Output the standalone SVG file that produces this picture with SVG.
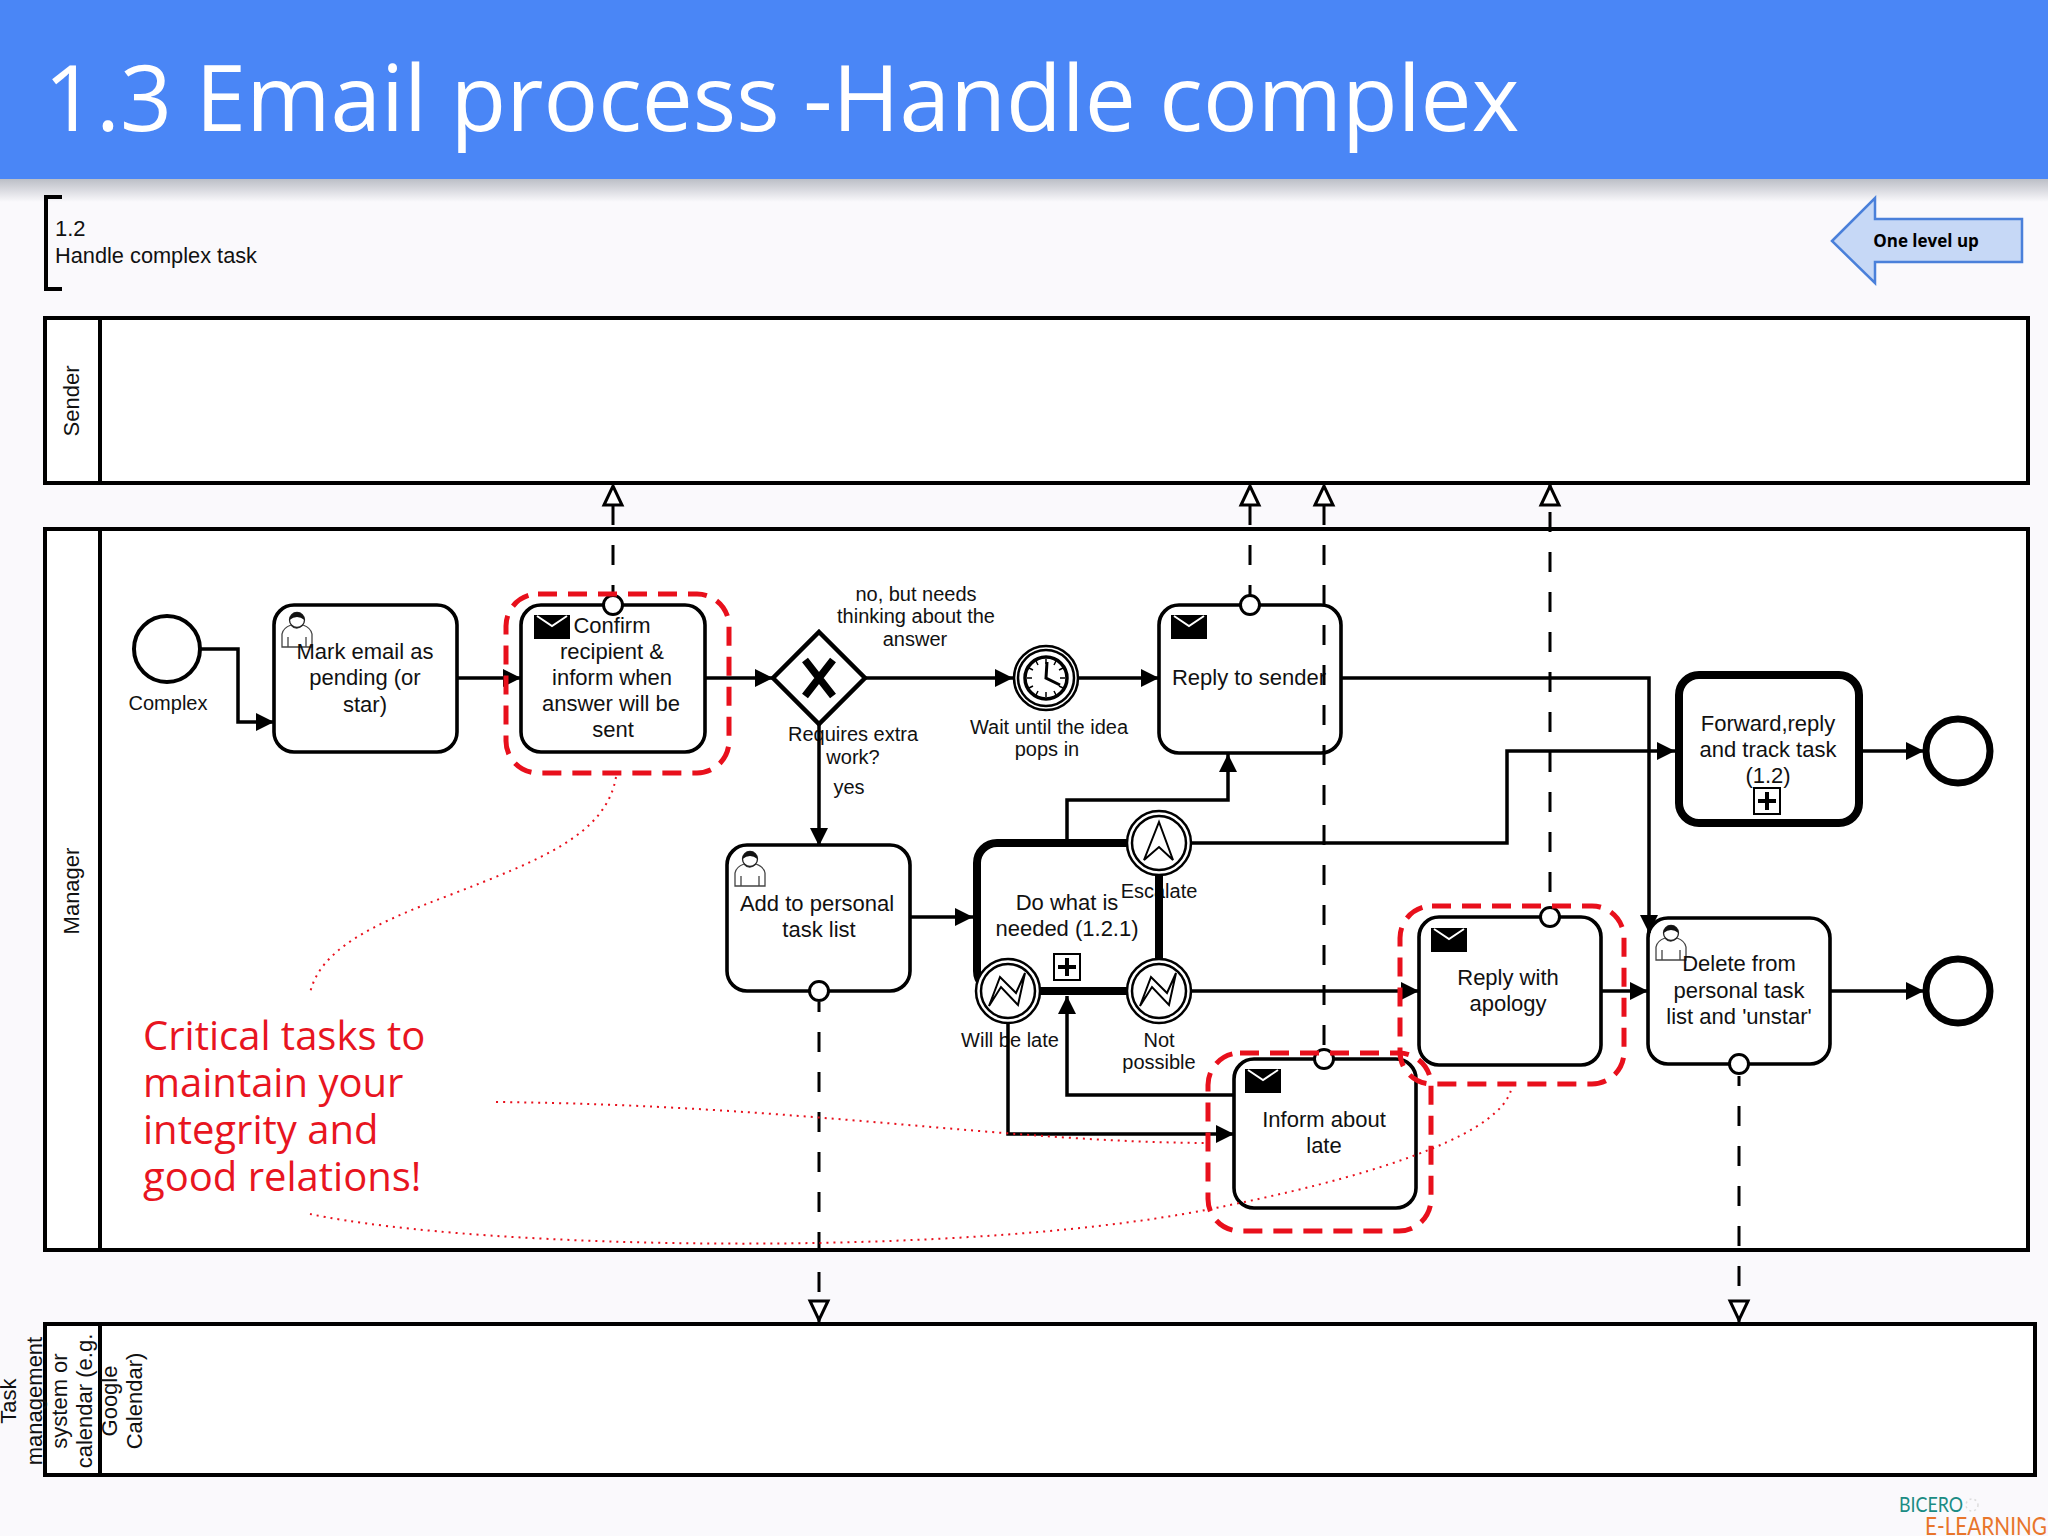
<svg xmlns="http://www.w3.org/2000/svg" width="2048" height="1536" viewBox="0 0 2048 1536">
<style>
.l{font-family:"Liberation Sans",Arial,sans-serif;font-size:22px;fill:#111;text-anchor:middle}
.s{font-size:20px}
.start{text-anchor:start}
.pool{fill:#fff;stroke:#000;stroke-width:4}
.div{stroke:#000;stroke-width:4}
.task{fill:#fff;stroke:#000;stroke-width:3.6}
.thick{fill:none;stroke:#000;stroke-width:8}
.mc{fill:#fff;stroke:#000;stroke-width:3}
.flow{fill:none;stroke:#000;stroke-width:3.5;marker-end:url(#fa)}
.msg{fill:none;stroke:#000;stroke-width:3;stroke-dasharray:20 20}
.crit{fill:none;stroke:#e8101c;stroke-width:5;stroke-dasharray:19 11}
.dot{fill:none;stroke:#e8101c;stroke-width:2;stroke-dasharray:2 5}
.ev{fill:#fff;stroke:#000;stroke-width:2.5}
.gl{fill:none;stroke:#000;stroke-width:2}
</style>
<defs>
<linearGradient id="sh" x1="0" y1="0" x2="0" y2="1"><stop offset="0" stop-color="#b9bcc4"/><stop offset="1" stop-color="#faf9fc"/></linearGradient>
<marker id="fa" markerUnits="userSpaceOnUse" markerWidth="20" markerHeight="20" viewBox="0 0 20 20" refX="19" refY="10" orient="auto-start-reverse"><polygon points="1,1 19,10 1,19" fill="#000"/></marker>
<marker id="ha" markerUnits="userSpaceOnUse" markerWidth="30" markerHeight="26" viewBox="0 0 30 26" refX="25" refY="13" orient="auto-start-reverse"><polygon points="4,4 23,13 4,22" fill="#fff" stroke="#000" stroke-width="3"/></marker>
<g id="mail"><rect width="36" height="24" fill="#000"/><path d="M3 1 L18 11 L33 1" fill="none" stroke="#fff" stroke-width="2"/></g>
<g id="user"><path d="M1 36 V23 Q2 17 10 14 Q15 20 22 14 Q30 17 31 23 V36 Z M7 36 V26 M25 36 V26" fill="#fff" stroke="#444" stroke-width="1.3"/><circle cx="16" cy="9" r="7.5" fill="#fff" stroke="#222" stroke-width="1.3"/><path d="M8.5 9 A7.5 7.5 0 0 1 23.5 9 Q16 3 8.5 9Z" fill="#111"/></g>
<g id="plus"><rect x="-13" y="-13" width="26" height="26" fill="#fff" stroke="#000" stroke-width="2"/><path d="M-9 0 H9 M0 -9 V9" stroke="#000" stroke-width="4"/></g>
<path id="bolt" d="M-19 15 L-8 -14 L8 2 L17 -18 L10 14 L-7 -4 Z" fill="#fff" stroke="#000" stroke-width="2"/>
</defs>
<rect width="2048" height="1536" fill="#faf9fc"/>
<g id="header">
<rect y="178" width="2048" height="24" fill="url(#sh)"/>
<rect width="2048" height="179" fill="#4a86f6"/>
<text x="44" y="131" font-family="'Open Sans','Noto Sans',sans-serif" font-size="91" fill="#fff">1.3 Email process -Handle complex</text>
</g>
<g id="context">
<path d="M62 197 H46 V289 H62" fill="none" stroke="#000" stroke-width="4"/>
<text class="l start" x="55" y="236">1.2</text>
<text class="l start" x="55" y="263" textLength="202" lengthAdjust="spacingAndGlyphs">Handle complex task</text>
</g>
<g id="one-level-up">
<path d="M1832 241 L1875 198 V219 H2022 V262 H1875 V283 Z" fill="#c6d8f6" stroke="#4a80da" stroke-width="2.5"/>
<text x="1926" y="247" font-family="'Open Sans',sans-serif" font-weight="700" font-size="17" fill="#000" text-anchor="middle">One level up</text>
</g>
<g id="pool-sender">
<rect class="pool" x="45" y="318" width="1983" height="165"/>
<path class="div" d="M100 318 V483"/>
<text class="l" transform="translate(79,401) rotate(-90)">Sender</text>
</g>
<g id="pool-manager">
<rect class="pool" x="45" y="529" width="1983" height="721"/>
<path class="div" d="M100 529 V1250"/>
<text class="l" transform="translate(79,891) rotate(-90)">Manager</text>
</g>
<g id="pool-task">
<rect class="pool" x="45" y="1324" width="1990" height="151"/>
<path class="div" d="M100 1324 V1475"/>
<g class="l">
<text class="l" transform="translate(16,1401) rotate(-90)">Task</text>
<text class="l" transform="translate(42,1401) rotate(-90)">management</text>
<text class="l" transform="translate(67,1401) rotate(-90)">system or</text>
<text class="l" transform="translate(92,1401) rotate(-90)">calendar (e.g.</text>
<text class="l" transform="translate(117,1401) rotate(-90)">Google</text>
<text class="l" transform="translate(142,1401) rotate(-90)">Calendar)</text>
</g>
</g>
<g id="start-complex">
<circle cx="167" cy="649" r="33" fill="#fff" stroke="#000" stroke-width="4"/>
<text class="l s" x="168" y="710">Complex</text>
</g>
<g id="task-mark">
<rect class="task" x="274" y="605" width="183" height="147" rx="20"/>
<use href="#user" x="281" y="611"/>
<text class="l" x="365" y="659">Mark email as</text>
<text class="l" x="365" y="685">pending (or</text>
<text class="l" x="365" y="712">star)</text>
</g>
<g id="task-confirm">
<rect class="task" x="521" y="605" width="184" height="147" rx="20"/>
<use href="#mail" x="534" y="615"/>
<circle class="mc" cx="613" cy="605" r="9.5"/>
<text class="l" x="612" y="633">Confirm</text>
<text class="l" x="612" y="659">recipient &amp;</text>
<text class="l" x="612" y="685">inform when</text>
<text class="l" x="611" y="711">answer will be</text>
<text class="l" x="613" y="737">sent</text>
</g>
<g id="gateway">
<path d="M819 632 L865 678 L819 724 L773 678 Z" fill="#fff" stroke="#000" stroke-width="4.5"/>
<path d="M805 660 L833 696 M833 660 L805 696" stroke="#000" stroke-width="7.5" fill="none"/>
<text class="l s" x="853" y="741">Requires extra</text>
<text class="l s" x="853" y="764">work?</text>
<text class="l s" x="849" y="794">yes</text>
<text class="l s" x="916" y="601">no, but needs</text>
<text class="l s" x="916" y="623">thinking about the</text>
<text class="l s" x="915" y="646">answer</text>
</g>
<g id="timer-wait">
<circle cx="1046" cy="678" r="32" fill="#fff" stroke="#000" stroke-width="2.5"/>
<circle cx="1046" cy="678" r="28" fill="#fff" stroke="#000" stroke-width="2.5"/>
<circle cx="1046" cy="678" r="21" fill="#fff" stroke="#000" stroke-width="3.5"/>
<path d="M1046 659 V664 M1046 692 V697 M1027 678 H1032 M1060 678 H1065 M1036 661 L1038 665 M1056 661 L1054 665 M1036 695 L1038 691 M1056 695 L1054 691 M1029 668 L1033 670 M1063 668 L1059 670 M1029 688 L1033 686 M1063 688 L1059 686" stroke="#000" stroke-width="1.5"/>
<path d="M1047 662 L1046 678 L1060 685" fill="none" stroke="#000" stroke-width="3"/>
<text class="l s" x="1049" y="734">Wait until the idea</text>
<text class="l s" x="1047" y="756">pops in</text>
</g>
<g id="task-reply-sender">
<rect class="task" x="1159" y="605" width="182" height="148" rx="20"/>
<use href="#mail" x="1171" y="615"/>
<circle class="mc" cx="1250" cy="605" r="9.5"/>
<text class="l" x="1249" y="685">Reply to sender</text>
</g>
<g id="task-add">
<rect class="task" x="727" y="845" width="183" height="146" rx="20"/>
<use href="#user" x="734" y="850"/>
<circle class="mc" cx="819" cy="991" r="9.5"/>
<text class="l" x="817" y="911">Add to personal</text>
<text class="l" x="819" y="937">task list</text>
</g>
<g id="subprocess-do">
<rect x="977" y="843" width="182" height="148" rx="20" fill="#fff"/>
<text class="l s" x="1159" y="898">Escalate</text>
<rect class="thick" x="977" y="843" width="182" height="148" rx="20"/>
<use href="#plus" x="1067" y="967"/>
<text class="l" x="1067" y="910">Do what is</text>
<text class="l" x="1067" y="936">needed (1.2.1)</text>
</g>
<g id="event-escalate">
<circle class="ev" cx="1159" cy="843" r="32"/><circle class="ev" cx="1159" cy="843" r="27"/>
<path class="gl" d="M1159 822 L1173 860 L1159 847 L1144 860 Z"/>
</g>
<g id="event-late">
<circle class="ev" cx="1008" cy="991" r="32"/><circle class="ev" cx="1008" cy="991" r="27"/>
<use href="#bolt" x="1008" y="991"/>
<text class="l s" x="1010" y="1047">Will be late</text>
</g>
<g id="event-notpossible">
<circle class="ev" cx="1159" cy="991" r="32"/><circle class="ev" cx="1159" cy="991" r="27"/>
<use href="#bolt" x="1159" y="991"/>
<text class="l s" x="1159" y="1047">Not</text>
<text class="l s" x="1159" y="1069">possible</text>
</g>
<g id="task-forward">
<rect class="thick" x="1679" y="675" width="180" height="148" rx="20" style="fill:#fff"/>
<text class="l" x="1768" y="731">Forward,reply</text>
<text class="l" x="1768" y="757">and track task</text>
<text class="l" x="1768" y="783">(1.2)</text>
<use href="#plus" x="1767" y="801"/>
</g>
<g id="end-1"><circle cx="1958" cy="751" r="32" fill="#fff" stroke="#000" stroke-width="7"/></g>
<g id="task-apology">
<rect class="task" x="1419" y="917" width="182" height="148" rx="20"/>
<use href="#mail" x="1431" y="928"/>
<circle class="mc" cx="1550" cy="917" r="9.5"/>
<text class="l" x="1508" y="985">Reply with</text>
<text class="l" x="1508" y="1011">apology</text>
</g>
<g id="task-delete">
<rect class="task" x="1648" y="918" width="182" height="146" rx="20"/>
<use href="#user" x="1655" y="924"/>
<circle class="mc" cx="1739" cy="1064" r="9.5"/>
<text class="l" x="1739" y="971">Delete from</text>
<text class="l" x="1739" y="998">personal task</text>
<text class="l" x="1739" y="1024">list and 'unstar'</text>
</g>
<g id="end-2"><circle cx="1958" cy="991" r="32" fill="#fff" stroke="#000" stroke-width="7"/></g>
<g id="task-inform">
<rect class="task" x="1234" y="1059" width="182" height="149" rx="20"/>
<use href="#mail" x="1245" y="1069"/>
<circle class="mc" cx="1324" cy="1059" r="9.5"/>
<text class="l" x="1324" y="1127">Inform about</text>
<text class="l" x="1324" y="1153">late</text>
</g>
<g id="connectors">
<path class="flow" d="M200 649 H238 V722 H274"/>
<path class="flow" d="M457 678 H521"/>
<path class="flow" d="M705 678 H773"/>
<path class="flow" d="M865 678 H1013"/>
<path class="flow" d="M1079 678 H1159"/>
<path class="flow" d="M1341 678 H1649 V933"/>
<path class="flow" d="M819 724 V846"/>
<path class="flow" d="M910 917 H973"/>
<path class="flow" d="M1067 839 V800 H1228 V754"/>
<path class="flow" d="M1191 843 H1507 V751 H1675"/>
<path class="flow" d="M1191 991 H1419"/>
<path class="flow" d="M1008 1023 V1134 H1234"/>
<path class="flow" d="M1234 1095 H1067 V996"/>
<path class="flow" d="M1601 991 H1648"/>
<path class="flow" d="M1830 991 H1924"/>
<path class="flow" d="M1863 751 H1924"/>
<path class="msg" marker-start="url(#ha)" stroke-dashoffset="19" d="M613 484 V595"/>
<path class="msg" marker-start="url(#ha)" stroke-dashoffset="19" d="M1250 484 V595"/>
<path class="msg" marker-start="url(#ha)" stroke-dashoffset="19" d="M1324 484 V1049"/>
<path class="msg" marker-start="url(#ha)" stroke-dashoffset="12" d="M1550 484 V907"/>
<path class="msg" stroke-dashoffset="10" marker-end="url(#ha)" d="M819 1002 V1322"/>
<path class="msg" stroke-dashoffset="10" marker-end="url(#ha)" d="M1739 1076 V1322"/>
</g>
<g id="critical-highlights">
<rect class="crit" x="506" y="594" width="223" height="179" rx="32"/>
<rect class="crit" x="1400" y="906" width="224" height="178" rx="32"/>
<rect class="crit" x="1208" y="1053" width="223" height="178" rx="32"/>
<path class="dot" d="M616 777 C606 835 540 860 450 895 C370 925 320 950 310 993"/>
<path class="dot" d="M496 1102 C800 1105 1000 1142 1208 1143"/>
<path class="dot" d="M310 1214 C480 1250 980 1260 1230 1205 C1400 1170 1500 1130 1511 1090"/>
<g font-family="'Open Sans','Noto Sans',sans-serif" font-size="40" fill="#e8151f">
<text x="143" y="1050">Critical tasks to</text>
<text x="143" y="1097">maintain your</text>
<text x="143" y="1144">integrity and</text>
<text x="143" y="1191">good relations!</text>
</g>
</g>
<g id="logo" font-family="Lato,sans-serif">
<text x="1899" y="1512" fill="#1b8c84" font-size="21" textLength="64" lengthAdjust="spacingAndGlyphs">BICERO</text>
<circle cx="1972" cy="1505" r="6" fill="none" stroke="#ddd" stroke-width="1.5" stroke-dasharray="2 3"/>
<text x="1925" y="1535" fill="#e8752b" font-size="25" textLength="122" lengthAdjust="spacingAndGlyphs">E-LEARNING</text>
</g>
</svg>
